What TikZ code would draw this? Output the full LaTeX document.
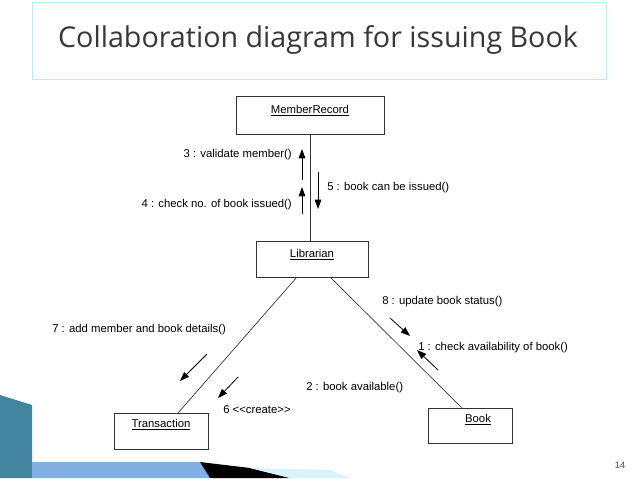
\documentclass[tikz,border=0pt]{standalone}
\usepackage{fontspec}
\setmainfont{Liberation Sans}
\newfontfamily\titlefont{Open Sans}
\usetikzlibrary{arrows.meta}
\begin{document}
\begin{tikzpicture}[x=0.75pt,y=-0.75pt,
  obj/.style={draw=black!80,fill=white,line width=0.5pt,anchor=north west,inner sep=0pt},
  lnk/.style={draw=black!80,line width=0.5pt},
  msg/.style={-{Triangle[length=7pt,width=5pt]},line width=0.6pt},
  lbl/.style={font=\fontsize{8.5}{10}\selectfont,inner sep=0pt}]
\useasboundingbox (0,0) rectangle (638,478);
% decoration
\fill[cyan!60!black] (0,395) -- (32,405) -- (32,478) -- (0,478) -- cycle;
\fill[cyan!60!blue!50] (32,462) -- (200,462) -- (210,478) -- (32,478) -- cycle;
\fill[black] (200,462) -- (250,468) -- (290,478) -- (210,478) -- cycle;
\fill[cyan!15] (250,468) -- (330,470) -- (350,478) -- (290,478) -- cycle;
% title
\node[draw=cyan!25,fill=white,minimum width=574*0.75pt,minimum height=77*0.75pt,anchor=north west,inner sep=0pt] (title) at (32,2) {};
\node[font=\titlefont\fontsize{21.5}{24}\selectfont,text=black!78] (tt) at (318,40) {Collaboration diagram for issuing Book};
% objects
\node[obj,minimum width=148*0.75pt,minimum height=38*0.75pt] (mr) at (236,96) {};
\node[lbl] (mrt) at (310,111) {\underline{MemberRecord}};
\node[obj,minimum width=112*0.75pt,minimum height=36*0.75pt] (lib) at (256,241) {};
\node[lbl] (libt) at (312,255) {\underline{Librarian}};
\node[obj,minimum width=94*0.75pt,minimum height=36*0.75pt] (tr) at (114,413) {};
\node[lbl] (trt) at (161,425) {\underline{Transaction}};
\node[obj,minimum width=84*0.75pt,minimum height=35*0.75pt] (bk) at (428,408) {};
\node[lbl] (bkt) at (478,420) {\underline{Book}};
% links
\coordinate (m1) at (310,134); \coordinate (l1) at (310,241);
\coordinate (l2) at (297,277); \coordinate (t2) at (178,413);
\coordinate (l3) at (330,277); \coordinate (b3) at (462,408);
\draw[lnk] (m1) -- (l1);
\draw[lnk] (l2) -- (t2);
\draw[lnk] (l3) -- (b3);
% messages
\coordinate (a1s) at (302,180); \coordinate (a1e) at (302,149);
\coordinate (a2s) at (302,214); \coordinate (a2e) at (302,187);
\coordinate (a3s) at (318,172); \coordinate (a3e) at (318,209);
\draw[msg] (a1s) -- (a1e);
\draw[msg] (a2s) -- (a2e);
\draw[msg] (a3s) -- (a3e);
\node[lbl,anchor=east] (m3) at (292,155) {3 : validate member()};
\node[lbl,anchor=east] (m4) at (292,205) {4 : check no. of book issued()};
\node[lbl,anchor=west] (m5) at (327,188) {5 : book can be issued()};
\coordinate (a7s) at (207,354); \coordinate (a7e) at (180,381);
\coordinate (a6s) at (238,377); \coordinate (a6e) at (218,398);
\draw[msg] (a7s) -- (a7e);
\draw[msg] (a6s) -- (a6e);
\node[lbl,anchor=west] (m7) at (52,330) {7 : add member and book details()};
\node[lbl,anchor=west] (m6) at (223,410) {6 <{}<create>{}>};
\coordinate (a8s) at (390,318); \coordinate (a8e) at (410,336);
\coordinate (a1bs) at (438,370); \coordinate (a1be) at (417,350);
\draw[msg] (a8s) -- (a8e);
\draw[msg] (a1bs) -- (a1be);
\node[lbl,anchor=west] (m8) at (382,302) {8 : update book status()};
\node[lbl,anchor=west] (m1l) at (418,348) {1 : check availability of book()};
\node[lbl,anchor=west] (m2) at (306,388) {2 : book available()};
\node[font=\fontsize{7}{8}\selectfont,text=black!70] (pg) at (620,465) {14};
\end{tikzpicture}
\end{document}
